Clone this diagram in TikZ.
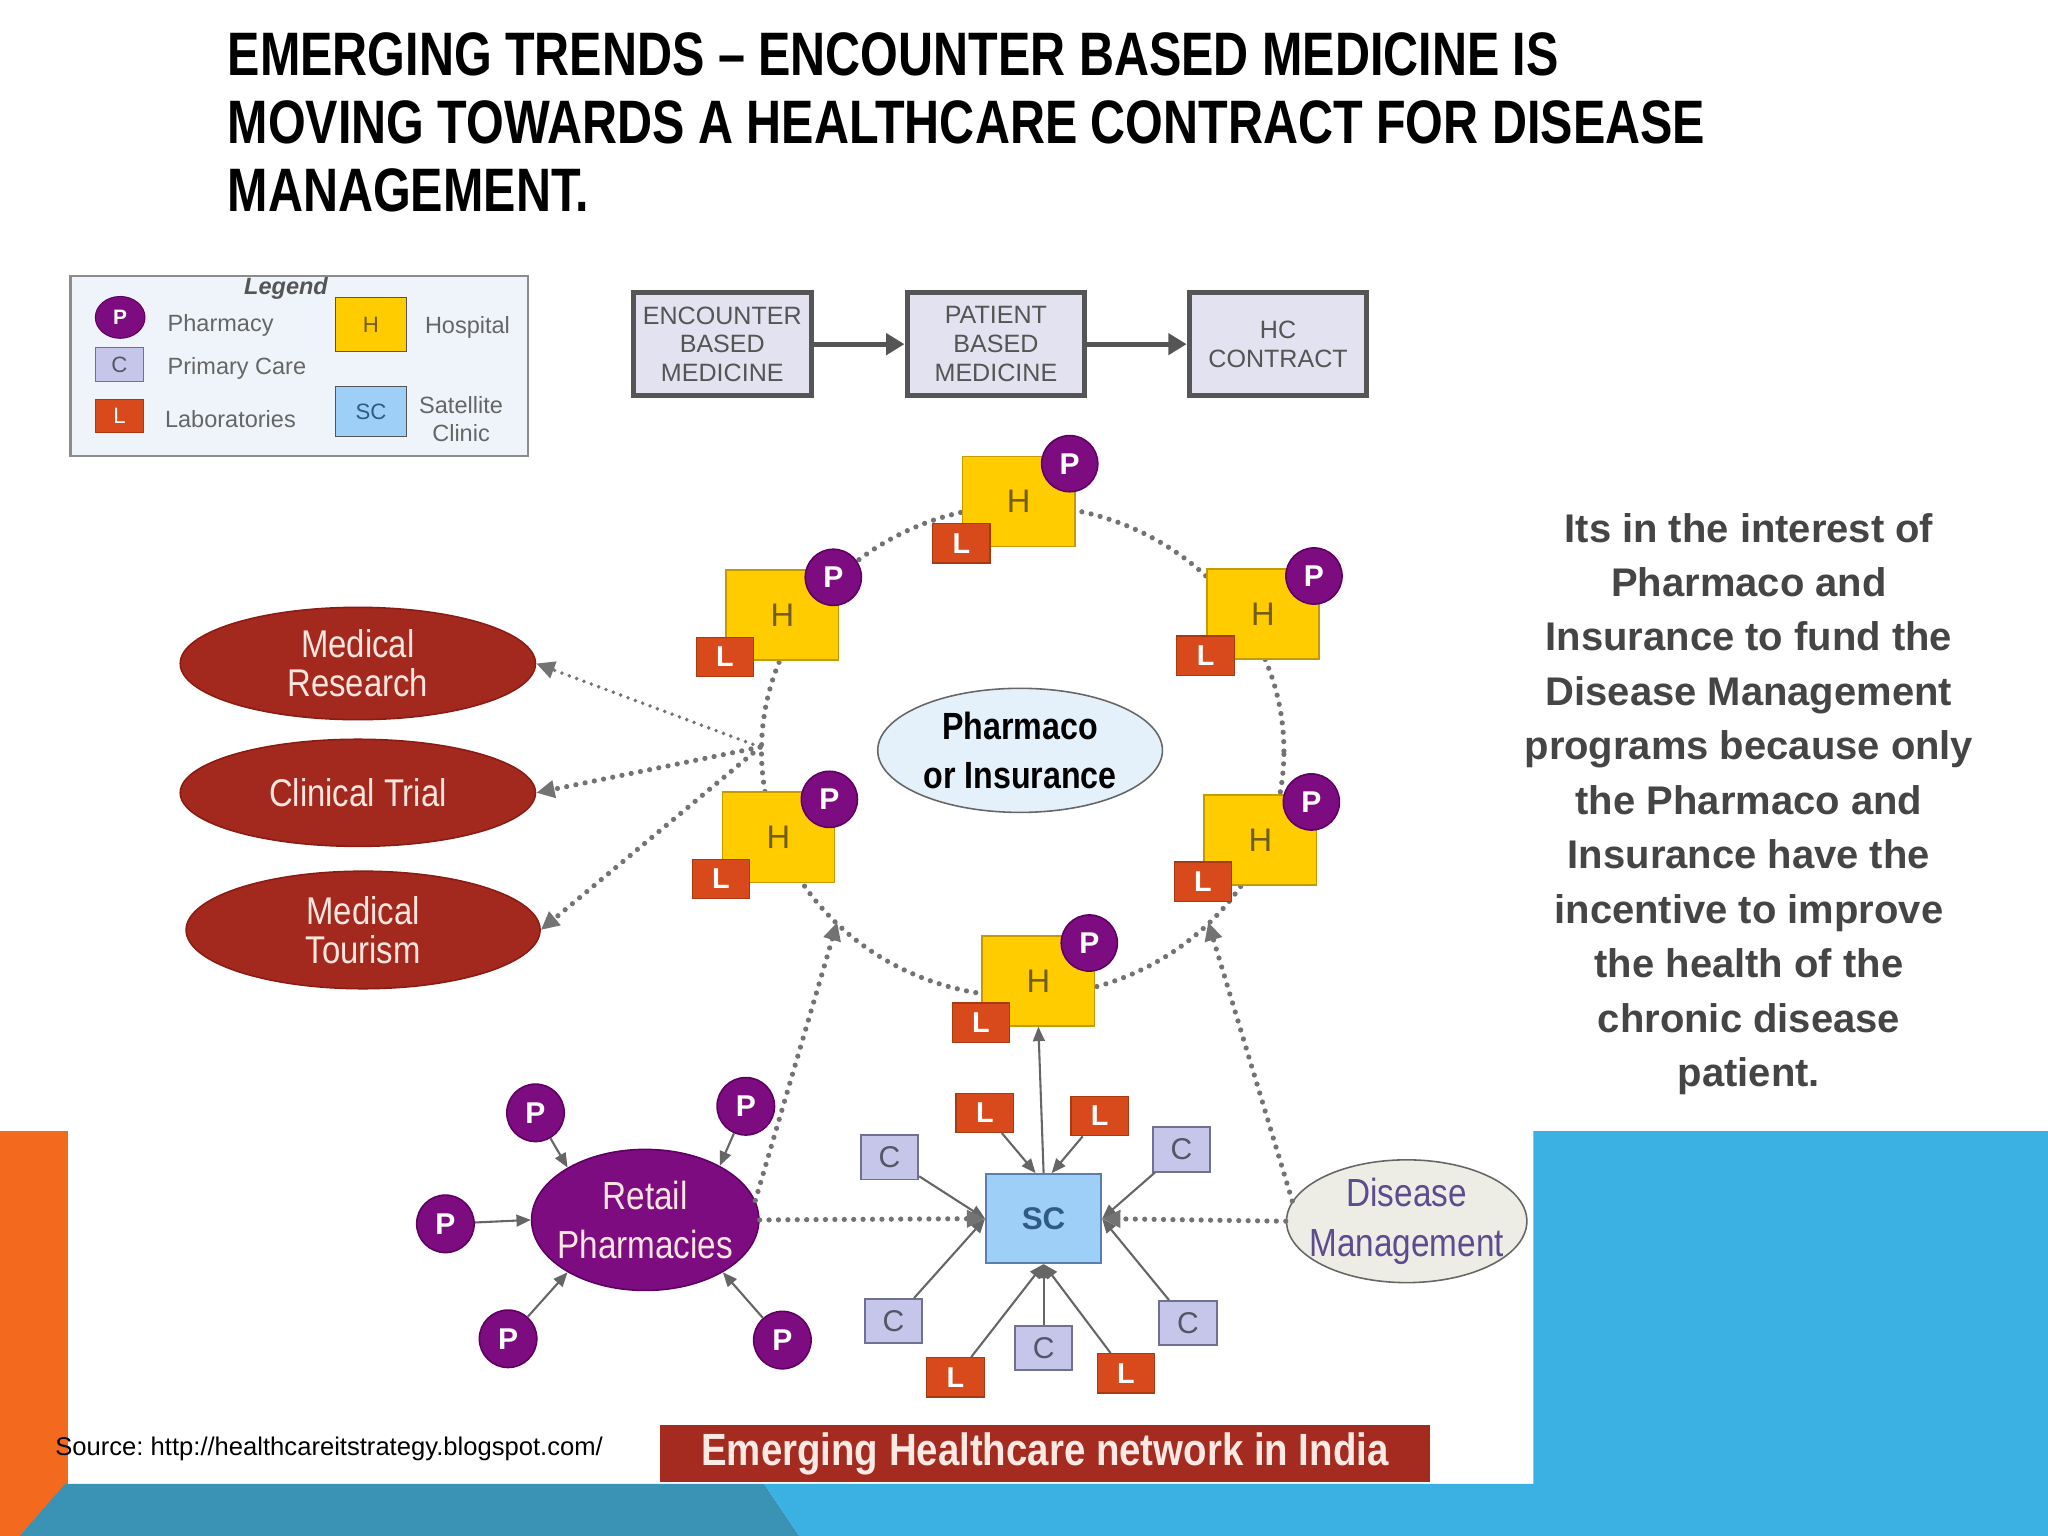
\documentclass[tikz,border=0pt]{standalone}
\usepackage{fontspec}
\setmainfont{Liberation Sans}
\newfontfamily\narrowfont[FakeStretch=0.85]{Liberation Sans}
\newfontfamily\titlefont[FakeStretch=0.79]{Liberation Sans}
\usetikzlibrary{shapes.geometric,arrows.meta}
\definecolor{orangeC}{HTML}{F36A1F}
\definecolor{tealC}{HTML}{3A93B4}
\definecolor{blueC}{HTML}{3AB1E2}
\definecolor{ppurple}{HTML}{7D0C80}
\definecolor{pborder}{HTML}{5E0062}
\definecolor{hyellow}{HTML}{FFCC00}
\definecolor{hborder}{HTML}{C49A00}
\definecolor{htext}{HTML}{735C14}
\definecolor{lred}{HTML}{D84A1B}
\definecolor{lborder}{HTML}{A83A12}
\definecolor{cfill}{HTML}{C6C6EA}
\definecolor{cborder}{HTML}{707090}
\definecolor{ctext}{HTML}{555566}
\definecolor{scfill}{HTML}{9ECFF7}
\definecolor{scborder}{HTML}{5A7FAF}
\definecolor{sctext}{HTML}{2F5A85}
\definecolor{redfill}{HTML}{A3281E}
\definecolor{redborder}{HTML}{8A1C14}
\definecolor{redtext}{HTML}{FCE6DE}
\definecolor{dmfill}{HTML}{EDEDE6}
\definecolor{dmtext}{HTML}{5C4B8E}
\definecolor{pharmfill}{HTML}{E4F1FA}
\definecolor{boxfill}{HTML}{E2E2F0}
\definecolor{boxborder}{HTML}{555555}
\definecolor{boxtext}{HTML}{555555}
\definecolor{dotgray}{HTML}{737373}
\definecolor{linegray}{HTML}{666666}
\definecolor{legfill}{HTML}{EEF4FA}
\definecolor{legborder}{HTML}{8C8C8C}
\definecolor{legtext}{HTML}{666666}
\definecolor{bannerred}{HTML}{A52A1F}
\definecolor{bannertext}{HTML}{FBEAE4}
\definecolor{rtext}{HTML}{454545}
\newcommand\hospunit[3]{%
  \node[hbox] (h#1) at (#2,#3) {H};
  \node[lbox] (l#1) at ([shift={(-44,32)}]h#1.center) {L};
  \node[pcirc] (p#1) at ([shift={(39,-29)}]h#1.center) {P};
}
\begin{document}
\frenchspacing
\begin{tikzpicture}[x=0.5pt,y=-0.5pt,
  hbox/.style={rectangle, draw=hborder, line width=0.6pt, fill=hyellow, minimum width=43pt, minimum height=34.5pt, inner sep=0pt, text=htext, font=\fontsize{12.5}{14}\selectfont},
  lbox/.style={rectangle, draw=lborder, line width=0.5pt, fill=lred, minimum width=22pt, minimum height=15pt, inner sep=0pt, text=white, font=\bfseries\fontsize{11}{12}\selectfont},
  pcirc/.style={circle, draw=pborder, line width=0.6pt, fill=ppurple, minimum size=21.5pt, inner sep=0pt, text=white, font=\bfseries\fontsize{11.5}{12}\selectfont},
  cbox/.style={rectangle, draw=cborder, line width=0.7pt, fill=cfill, minimum width=22pt, minimum height=17pt, inner sep=0pt, text=ctext, font=\fontsize{11.5}{12}\selectfont},
  scbox/.style={rectangle, draw=scborder, line width=0.8pt, fill=scfill, minimum width=44pt, minimum height=34pt, inner sep=0pt, text=sctext, font=\bfseries\fontsize{12}{13}\selectfont},
  redell/.style={ellipse, fill=redfill, draw=redborder, line width=0.6pt, text=redtext, align=center, inner sep=0pt, font=\narrowfont\fontsize{14.8}{15}\selectfont},
  stagebox/.style={rectangle, draw=boxborder, line width=2pt, fill=boxfill, minimum width=68pt, minimum height=39.5pt, inner sep=0pt, align=center, text=boxtext, font=\fontsize{9.6}{11}\selectfont},
  stagearrow/.style={draw=boxborder, line width=2pt, -{Triangle[length=7pt,width=8pt]}},
  dotline/.style={draw=dotgray, line width=2pt, line cap=round, dash pattern=on 0pt off 3.6pt},
  dotarrow/.style={dotline, -{Triangle[length=7pt,width=6.5pt]}},
  thinarrow/.style={draw=linegray, line width=0.8pt, -{Triangle[length=5.5pt,width=4.5pt]}},
  legtxt/.style={text=legtext, inner sep=0pt, font=\fontsize{9}{10.5}\selectfont},
  righttext/.style={anchor=base, inner sep=0pt, text=rtext, font=\bfseries\fontsize{15.3}{18}\selectfont},
  titletxt/.style={anchor=base west, inner sep=0pt, font=\titlefont\bfseries\fontsize{23.5}{26}\selectfont}
]
% background
\useasboundingbox (0,0) rectangle (1568,1176);
\fill[white] (0,0) rectangle (1568,1176);
\fill[orangeC] (0,866) -- (52,866) -- (52,1136) -- (15,1176) -- (0,1176) -- cycle;
\fill[tealC] (50,1136) -- (585,1136) -- (612,1176) -- (15,1176) -- cycle;
\fill[blueC] (1174,866) -- (1568,866) -- (1568,1176) -- (612,1176) -- (585,1136) -- (1174,1136) -- cycle;

% title
\node[titletxt] (t1) at (174,58) {EMERGING TRENDS – ENCOUNTER BASED MEDICINE IS};
\node[titletxt] (t2) at (174,110) {MOVING TOWARDS A HEALTHCARE CONTRACT FOR DISEASE};
\node[titletxt] (t3) at (174,162) {MANAGEMENT.};

% legend
\node[rectangle, draw=legborder, line width=0.8pt, fill=legfill, minimum width=175pt, minimum height=69pt, inner sep=0pt] (legendbox) at (229,280) {};
\node[text=boxtext, inner sep=0pt, font=\bfseries\itshape\fontsize{9}{10}\selectfont] (lgtitle) at (219,221) {Legend};
\node[ellipse, draw=pborder, fill=ppurple, minimum width=19pt, minimum height=16pt, inner sep=0pt, text=white, font=\bfseries\fontsize{8}{9}\selectfont] (lgp) at (92,243) {P};
\node[rectangle, draw=cborder, fill=cfill, minimum width=18.5pt, minimum height=13pt, inner sep=0pt, text=ctext, font=\fontsize{8.5}{9}\selectfont] (lgc) at (91.5,279) {C};
\node[rectangle, draw=lborder, fill=lred, minimum width=18.5pt, minimum height=12.5pt, inner sep=0pt, text=white, font=\fontsize{8.5}{9}\selectfont] (lgl) at (91.5,318.5) {L};
\node[rectangle, draw=boxborder, fill=hyellow, minimum width=27pt, minimum height=20.5pt, inner sep=0pt, text=htext, font=\fontsize{8.5}{9}\selectfont] (lgh) at (284,248.5) {H};
\node[rectangle, draw=boxborder, fill=scfill, minimum width=27pt, minimum height=19pt, inner sep=0pt, text=sctext, font=\fontsize{8.5}{9}\selectfont] (lgsc) at (284,315) {SC};
\node[legtxt, anchor=west] (lgt1) at (128,249) {Pharmacy};
\node[legtxt, anchor=west] (lgt2) at (128,282) {Primary Care};
\node[legtxt, anchor=west] (lgt3) at (126,321) {Laboratories};
\node[legtxt, anchor=west] (lgt4) at (325,251) {Hospital};
\node[legtxt, align=center] (lgt5) at (353,321) {Satellite\\Clinic};

% stage boxes
\node[stagebox] (b1) at (553,263.5) {ENCOUNTER\\BASED\\MEDICINE};
\node[stagebox] (b2) at (762.5,263.5) {PATIENT\\BASED\\MEDICINE};
\node[stagebox] (b3) at (978.5,263.5) {HC\\CONTRACT};
\draw[stagearrow] (b1) -- (b2);
\draw[stagearrow] (b2) -- (b3);

% ring of hospitals
\draw[dotline] (783,575) ellipse [x radius=100pt, y radius=94pt];
\node[ellipse, draw=linegray, line width=0.6pt, fill=pharmfill, minimum width=109pt, minimum height=47.5pt, inner sep=0pt, align=center, font=\narrowfont\bfseries\fontsize{14.5}{19}\selectfont] (pharm) at (781,574.5) {Pharmaco\\or Insurance};
\hospunit{T}{780}{384}
\hospunit{UL}{599}{471}
\hospunit{UR}{967}{470}
\hospunit{LL}{596}{641}
\hospunit{LR}{965}{643}
\hospunit{B}{795}{751}

% left ellipses
\node[redell, minimum width=136pt, minimum height=43pt] (mr) at (274,508) {Medical\\Research};
\node[redell, minimum width=136pt, minimum height=41pt] (ct) at (274,607) {Clinical Trial};
\node[redell, minimum width=135.5pt, minimum height=45pt] (mt) at (278,712) {Medical\\Tourism};
\coordinate (conv) at (582,572);
\draw[dotarrow, line width=1.5pt, dash pattern=on 0pt off 3pt] (conv) -- (mr.east);
\draw[dotarrow] (conv) -- (ct.east);
\draw[dotarrow] (conv) -- (mt.east);

% bottom network
\node[ellipse, fill=ppurple, draw=pborder, line width=0.6pt, minimum width=87pt, minimum height=54pt, inner xsep=-8pt, inner ysep=0pt, align=center, text=redtext, font=\narrowfont\fontsize{15}{19}\selectfont] (rp) at (494,934) {Retail\\Pharmacies};
\node[pcirc, minimum size=22pt] (rp1) at (410,852) {P};
\node[pcirc, minimum size=22pt] (rp2) at (571,847) {P};
\node[pcirc, minimum size=22pt] (rp3) at (341,937) {P};
\node[pcirc, minimum size=22pt] (rp4) at (389,1025) {P};
\node[pcirc, minimum size=22pt] (rp5) at (599,1026) {P};
\draw[thinarrow] (rp1) -- (rp.146);
\draw[thinarrow] (rp2) -- (rp.36);
\draw[thinarrow] (rp3) -- (rp.west);
\draw[thinarrow] (rp4) -- (rp.214);
\draw[thinarrow] (rp5) -- (rp.326);

\node[scbox] (sc) at (799,933) {SC};
\node[ellipse, fill=dmfill, draw=linegray, line width=0.6pt, minimum width=92pt, minimum height=47pt, inner xsep=-12pt, inner ysep=0pt, align=center, text=dmtext, font=\narrowfont\fontsize{15}{19}\selectfont] (dm) at (1077,935) {Disease\\Management};

\node[lbox] (lt1) at (754,852) {L};
\node[lbox] (lt2) at (842,854.5) {L};
\node[lbox] (lb1) at (731.5,1054.5) {L};
\node[lbox] (lb2) at (862,1051.5) {L};
\node[cbox] (ct1) at (681,886) {C};
\node[cbox] (ct2) at (904.5,880) {C};
\node[cbox] (cb1) at (684,1011.5) {C};
\node[cbox] (cb2) at (909.5,1013) {C};
\node[cbox] (cb3) at (799,1032) {C};
\draw[thinarrow] (lt1) -- (sc.100);
\draw[thinarrow] (lt2) -- (sc.80);
\draw[thinarrow] (ct1) -- (sc.west);
\draw[thinarrow] (cb1) -- (sc.west);
\draw[thinarrow] (ct2) -- (sc.east);
\draw[thinarrow] (cb2) -- (sc.east);
\draw[thinarrow] (cb3) -- (sc.south);
\draw[thinarrow] (lb1) -- (sc.south);
\draw[thinarrow] (lb2) -- (sc.south);
\draw[thinarrow] (sc.north) -- (hB.south);

\draw[dotarrow] (rp.east) -- (sc.west);
\draw[dotarrow] (dm.west) -- (sc.east);
\coordinate (tipL) at (641,706);
\coordinate (tipR) at (925,706);
\draw[dotarrow] (rp.10) -- (tipL);
\draw[dotarrow] (dm.170) -- (tipR);

% banner and source
\node[rectangle, fill=bannerred, minimum width=295pt, minimum height=22pt, inner sep=0pt, text=bannertext, font=\narrowfont\bfseries\fontsize{17.3}{18}\selectfont] (banner) at (800,1113) {Emerging Healthcare network in India};
\node[anchor=base west, inner sep=0pt, font=\fontsize{9.8}{11}\selectfont] (src) at (42,1114) {Source: http://healthcareitstrategy.blogspot.com/};

% right text
\foreach \txt [count=\i] in {Its in the interest of, Pharmaco and, Insurance to fund the, Disease Management, programs because only, the Pharmaco and, Insurance have the, incentive to improve, the health of the, chronic disease, patient.}
  \node[righttext] (rt\i) at (1339,{415+41.7*(\i-1)}) {\txt};
\end{tikzpicture}
\end{document}
